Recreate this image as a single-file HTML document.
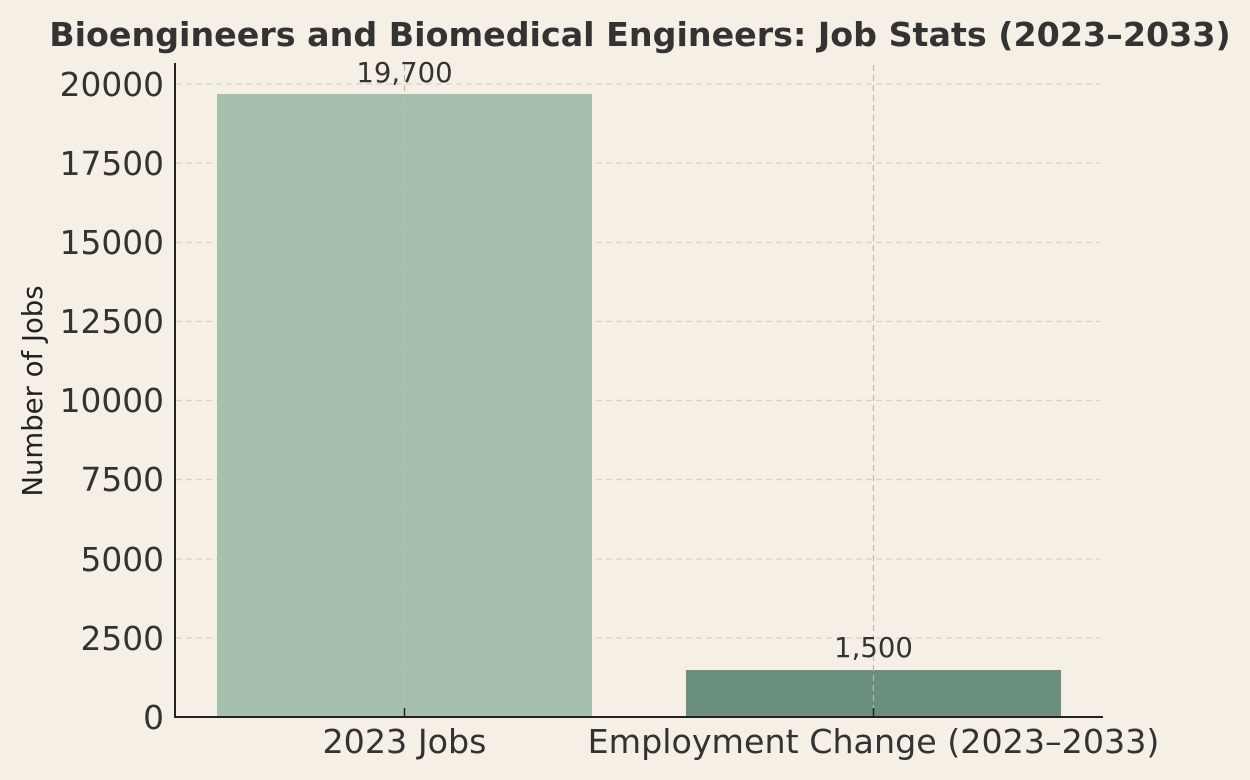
<!DOCTYPE html>
<html><head><meta charset="utf-8"><style>
html,body{margin:0;padding:0;background:#f5efe6;}
svg{display:block;font-family:"DejaVu Sans","Liberation Sans",sans-serif;}
</style></head><body>
<svg width="1250" height="780" viewBox="0 0 1250 780" xmlns="http://www.w3.org/2000/svg">
<rect width="1250" height="780" fill="#f5efe6"/>
<text x="640" y="46" text-anchor="middle" font-size="33.3" font-weight="bold" fill="#333">Bioengineers and Biomedical Engineers: Job Stats (2023–2033)</text>
<g stroke="#d8d2c8" stroke-width="1.2" stroke-dasharray="6,4">
<line x1="176" x2="1100" y1="84" y2="84"/>
<line x1="176" x2="1100" y1="163" y2="163"/>
<line x1="176" x2="1100" y1="242.5" y2="242.5"/>
<line x1="176" x2="1100" y1="321.5" y2="321.5"/>
<line x1="176" x2="1100" y1="400.5" y2="400.5"/>
<line x1="176" x2="1100" y1="479.5" y2="479.5"/>
<line x1="176" x2="1100" y1="559" y2="559"/>
<line x1="176" x2="1100" y1="638" y2="638"/>
</g>
<rect x="217" y="94" width="375" height="623" fill="#a5c1ae"/>
<rect x="686" y="670" width="375" height="47" fill="#6b8f7d"/>
<g stroke="#bdb8ad" stroke-width="1.2" stroke-dasharray="6,4">
<line x1="404.5" x2="404.5" y1="65" y2="717"/>
<line x1="873.5" x2="873.5" y1="65" y2="717"/>
</g>
<line x1="175" x2="175" y1="63" y2="718" stroke="#222" stroke-width="2"/>
<line x1="174" x2="1103" y1="717" y2="717" stroke="#222" stroke-width="2"/>
<g stroke="#222" stroke-width="1.5">
<line x1="404.5" x2="404.5" y1="717" y2="708"/>
<line x1="873.5" x2="873.5" y1="717" y2="708"/>
</g>
<g font-size="32.8" fill="#333" text-anchor="end">
<text x="164" y="96">20000</text>
<text x="164" y="175">17500</text>
<text x="164" y="254">15000</text>
<text x="164" y="333">12500</text>
<text x="164" y="412">10000</text>
<text x="164" y="491">7500</text>
<text x="164" y="571">5000</text>
<text x="164" y="650">2500</text>
<text x="164" y="729">0</text>
</g>
<g font-size="33.3" fill="#333" text-anchor="middle">
<text x="404.5" y="753">2023 Jobs</text>
<text x="873.5" y="753">Employment Change (2023–2033)</text>
</g>
<g font-size="27.5" fill="#333" text-anchor="middle">
<text x="404.5" y="82">19,700</text>
<text x="873.5" y="657">1,500</text>
</g>
<text transform="translate(42,391) rotate(-90)" text-anchor="middle" font-size="27.5" fill="#222">Number of Jobs</text>
</svg>
</body></html>
